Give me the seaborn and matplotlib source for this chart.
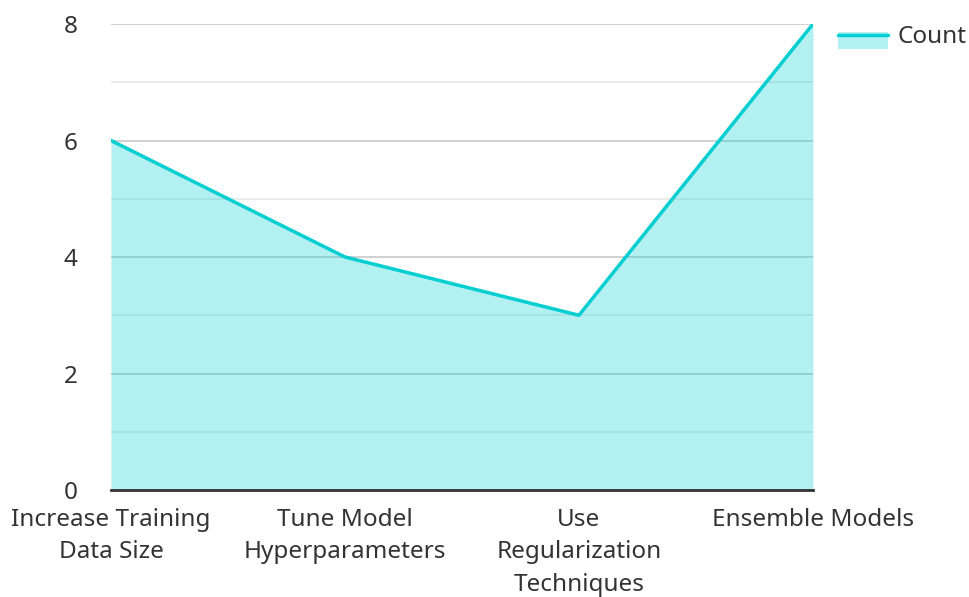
import pandas as pd
import matplotlib.pyplot as plt
import seaborn as sns
from matplotlib.patches import Rectangle
from matplotlib.lines import Line2D
from matplotlib.legend_handler import HandlerBase
from matplotlib.ticker import MultipleLocator

# data
categories = [
    "Increase Training\nData Size",
    "Tune Model\nHyperparameters",
    "Use\nRegularization\nTechniques",
    "Ensemble Models",
]
counts = [6, 4, 3, 8]

df = pd.DataFrame({"Strategy": categories, "Count": counts})

line_color = "#00CED1"
text_color = "#333333"
fsize = 17.5


class FillLineHandler(HandlerBase):
    # patch under the line, line sitting near the top of the patch
    def create_artists(self, legend, orig_handle, xdescent, ydescent,
                       width, height, fontsize, trans):
        c = -ydescent + height / 2
        rect = Rectangle((-xdescent, c - 0.85 * height), width, 0.98 * height,
                         facecolor=line_color, alpha=0.3, edgecolor="none",
                         transform=trans)
        line = Line2D([-xdescent, -xdescent + width], [c] * 2,
                      color=line_color, linewidth=2.5, transform=trans)
        return [rect, line]


sns.set_theme(style="white")
plt.rcParams["font.family"] = ["Noto Sans", "DejaVu Sans"]

fig = plt.figure(figsize=(9.7, 5.97), dpi=100)
ax = fig.add_axes([0.1144, 0.1792, 0.7237, 0.7806])

xpos = list(range(len(categories)))
ax.fill_between(xpos, 0, df["Count"], color=line_color, alpha=0.3,
                linewidth=0, zorder=2)
sns.lineplot(data=df, x="Strategy", y="Count", ax=ax, color=line_color,
             linewidth=2.5, sort=False, zorder=3)

ax.set_xlim(0, len(categories) - 1)
ax.set_ylim(0, 8)
ax.yaxis.set_major_locator(MultipleLocator(2))
ax.yaxis.set_minor_locator(MultipleLocator(1))
ax.set_axisbelow(True)
ax.grid(True, axis="y", which="major", color="#c8c8c8", linewidth=1.2)
ax.grid(True, axis="y", which="minor", color="#e8e8e8", linewidth=1.2)
ax.grid(False, axis="x")

for s in ["top", "right", "left"]:
    ax.spines[s].set_visible(False)
ax.spines["bottom"].set_color("#333333")
ax.spines["bottom"].set_linewidth(2)
ax.spines["bottom"].set_zorder(4)

ax.set_xticks(xpos)
ax.set_xticklabels(categories, fontsize=fsize, color=text_color, linespacing=1.46)
ax.tick_params(axis="x", length=0, pad=13)
ax.tick_params(axis="y", which="both", length=0, pad=24, labelsize=fsize,
               labelcolor=text_color)
ax.set_xlabel("")
ax.set_ylabel("")

fig.legend([object()], ["Count"], handler_map={object: FillLineHandler()},
           loc="upper left", bbox_to_anchor=(0.864, 0.958), borderpad=0,
           borderaxespad=0, frameon=False, fontsize=fsize, handlelength=2.05,
           handletextpad=0.4, labelcolor=text_color)

fig.savefig("out.png", dpi=100)
